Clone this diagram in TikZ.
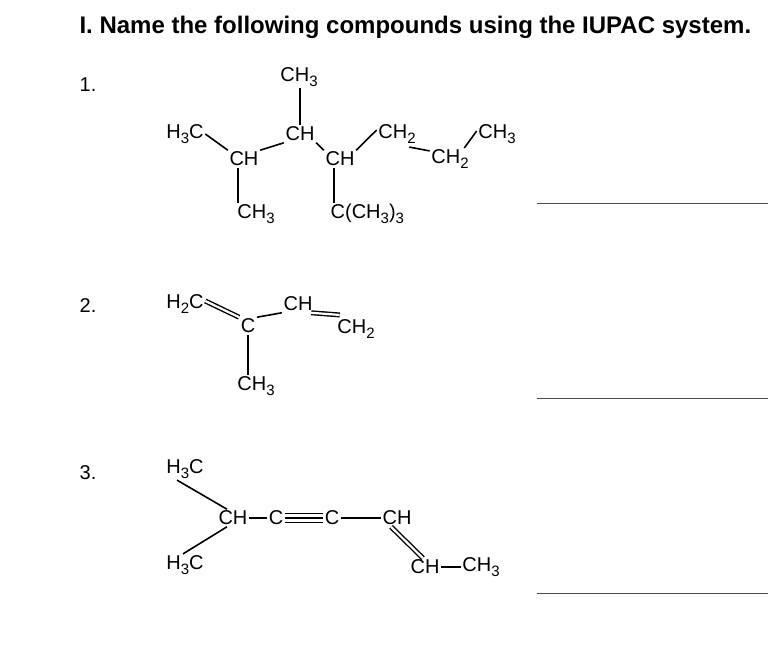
\documentclass[tikz,border=0pt]{standalone}
\usepackage{fontspec}
\setmainfont{Liberation Sans}
\newcommand{\sbs}[1]{\raisebox{-0.45ex}{\fontsize{15}{15}\selectfont #1}}
\begin{document}
\begin{tikzpicture}[x=1pt,y=-1pt,
  grp/.style={font=\fontsize{20}{20}\selectfont, inner sep=1.5pt},
  bd/.style={line width=1.6pt},
  dbl/.style={line width=1.4pt,double,double distance=2.2pt},
  ans/.style={line width=0.6pt, black!70}]
\useasboundingbox (0,0) rectangle (768,661);
\node[anchor=west,font=\fontsize{24}{24}\selectfont\bfseries] (title) at (76,27) {I. Name the following compounds using the IUPAC system.};
\node[grp,anchor=west] (n1) at (78,85) {1.};
\node[grp,anchor=west] (n2) at (78,306) {2.};
\node[grp,anchor=west] (n3) at (78,473) {3.};
% answer lines
\coordinate (l1a) at (537,203); \coordinate (l1b) at (768,203);
\coordinate (l2a) at (537,398); \coordinate (l2b) at (768,398);
\coordinate (l3a) at (537,593); \coordinate (l3b) at (768,593);
\draw[ans] (l1a) -- (l1b); \draw[ans] (l2a) -- (l2b); \draw[ans] (l3a) -- (l3b);
% compound 1
\node[grp] (a1) at (185,134) {H\sbs{3}C};
\node[grp] (a2) at (244,159) {CH};
\node[grp] (a3) at (299,77) {CH\sbs{3}};
\node[grp] (a4) at (300,134) {CH};
\node[grp] (a5) at (340,159) {CH};
\node[grp] (a6) at (256,214) {CH\sbs{3}};
\node[grp,anchor=west] (a7) at (329,214) {C(CH\sbs{3})\sbs{3}};
\node[grp] (a8) at (397,134) {CH\sbs{2}};
\node[grp] (a9) at (450,159) {CH\sbs{2}};
\node[grp] (a10) at (497,134) {CH\sbs{3}};
\draw[bd] (a1.east) -- (a2.north west);
\draw[bd] (a2.north east) -- (a4.south west);
\draw[bd] (a4.south east) -- (a5.north west);
\draw[bd] (a5.north east) -- ([yshift=4]a8.west);
\draw[bd] ([xshift=-8,yshift=-2]a8.south east) -- ([yshift=-3]a9.north west);
\draw[bd] ([xshift=-6]a9.north east) -- ([yshift=3]a10.west);
\draw[bd] (a4.north) -- (a4.north |- a3.south);
\draw[bd] ([xshift=-6]a2.south) -- ([xshift=-6]a2.south |- a6.north);
\draw[bd] ([xshift=-6]a5.south) -- ([xshift=-6]a5.south |- a7.north);
% compound 2
\node[grp] (b1) at (185,304) {H\sbs{2}C};
\node[grp] (b2) at (248,326) {C};
\node[grp] (b3) at (298,304) {CH};
\node[grp] (b4) at (356,329) {CH\sbs{2}};
\node[grp] (b5) at (256,386) {CH\sbs{3}};
\draw[dbl] ([yshift=3]b1.east) -- (b2.north west);
\draw[bd] (b2.north east) -- (b3.south west);
\draw[dbl] ([xshift=-3]b3.south east) -- ([xshift=4,yshift=3]b4.north west);
\draw[bd] (b2.south) -- (b2.south |- b5.north);
% compound 3
\node[grp] (c1) at (185,469) {H\sbs{3}C};
\node[grp] (c2) at (233,518) {CH};
\node[grp] (c3) at (276,518) {C};
\node[grp] (c4) at (332,518) {C};
\node[grp] (c5) at (397,518) {CH};
\node[grp] (c6) at (185,565) {H\sbs{3}C};
\node[grp] (c7) at (425,567) {CH};
\node[grp] (c8) at (481,567) {CH\sbs{3}};
\draw[bd] ([xshift=-8]c1.south) -- ([xshift=-6]c2.north);
\draw[bd] ([xshift=-6]c2.south) -- ([xshift=-2]c6.north);
\draw[bd] (c2.east) -- (c3.west);
\draw[line width=1.4pt] ([yshift=-4.5]c3.east) -- ([yshift=-4.5]c4.west);
\draw[line width=1.4pt] (c3.east) -- (c4.west);
\draw[line width=1.4pt] ([yshift=4.5]c3.east) -- ([yshift=4.5]c4.west);
\draw[bd] (c4.east) -- (c5.west);
\draw[dbl] ([xshift=-6]c5.south) -- ([xshift=-2]c7.north);
\draw[bd] (c7.east) -- (c8.west);
\end{tikzpicture}
\end{document}
